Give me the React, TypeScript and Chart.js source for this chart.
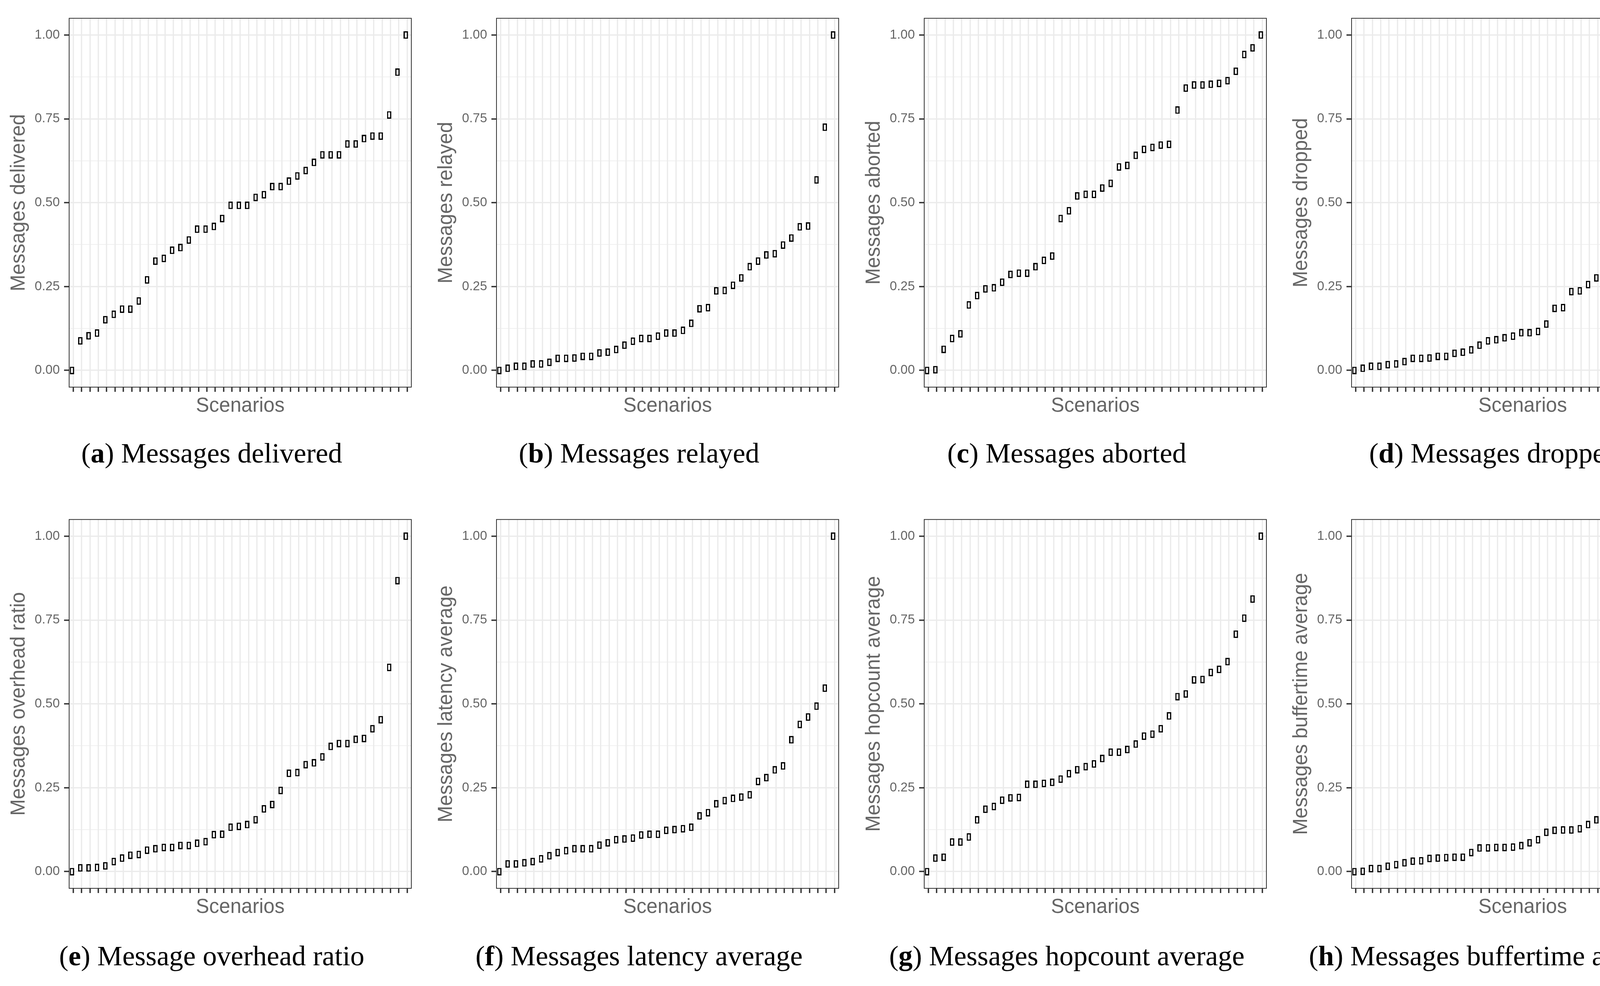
import React, { useEffect, useRef } from 'react';
import { Chart, registerables } from 'chart.js';

Chart.register(...registerables);

const SCENARIOS = ['1','2','3','4','5','6','7','8','9','10','11','12','13','14','15','16','17','18','19','20','21','22','23','24','25','26','27','28','29','30','31','32','33','34','35','36','37','38','39','40','41'];
const Y_TICK_LABELS = ['0.00', '0.25', '0.50', '0.75', '1.00'];

const DELIVERED = [0.000, 0.088, 0.103, 0.111, 0.151, 0.167, 0.183, 0.183, 0.207, 0.270, 0.326, 0.334, 0.358, 0.366, 0.389, 0.421, 0.421, 0.429, 0.453, 0.492, 0.492, 0.492, 0.516, 0.524, 0.548, 0.548, 0.564, 0.580, 0.596, 0.620, 0.643, 0.643, 0.643, 0.675, 0.675, 0.691, 0.699, 0.699, 0.762, 0.889, 1.000];
const RELAYED = [0.000, 0.006, 0.012, 0.012, 0.019, 0.019, 0.024, 0.036, 0.036, 0.037, 0.042, 0.042, 0.052, 0.054, 0.062, 0.075, 0.087, 0.095, 0.095, 0.102, 0.111, 0.111, 0.119, 0.140, 0.184, 0.187, 0.237, 0.238, 0.254, 0.276, 0.309, 0.326, 0.344, 0.348, 0.374, 0.395, 0.428, 0.430, 0.568, 0.725, 1.000];
const ABORTED = [0.000, 0.002, 0.063, 0.095, 0.109, 0.195, 0.223, 0.243, 0.246, 0.263, 0.286, 0.290, 0.290, 0.309, 0.328, 0.341, 0.453, 0.476, 0.520, 0.525, 0.525, 0.544, 0.558, 0.607, 0.611, 0.641, 0.659, 0.665, 0.672, 0.674, 0.776, 0.842, 0.851, 0.851, 0.853, 0.856, 0.864, 0.892, 0.942, 0.962, 1.000];
const DROPPED = [0.000, 0.006, 0.012, 0.012, 0.017, 0.019, 0.026, 0.036, 0.036, 0.037, 0.042, 0.042, 0.051, 0.054, 0.061, 0.075, 0.088, 0.091, 0.097, 0.102, 0.112, 0.112, 0.116, 0.138, 0.185, 0.187, 0.235, 0.237, 0.256, 0.276, 0.309, 0.326, 0.342, 0.347, 0.372, 0.396, 0.427, 0.430, 0.568, 0.725, 1.000];
const OVERHEAD = [0.000, 0.011, 0.011, 0.012, 0.017, 0.030, 0.040, 0.049, 0.051, 0.064, 0.068, 0.072, 0.072, 0.078, 0.078, 0.084, 0.089, 0.110, 0.111, 0.132, 0.135, 0.140, 0.155, 0.187, 0.200, 0.242, 0.293, 0.295, 0.319, 0.324, 0.342, 0.373, 0.382, 0.382, 0.394, 0.397, 0.426, 0.453, 0.609, 0.868, 1.000];
const LATENCY = [0.000, 0.023, 0.023, 0.026, 0.030, 0.038, 0.047, 0.057, 0.062, 0.068, 0.068, 0.068, 0.079, 0.086, 0.095, 0.097, 0.100, 0.109, 0.111, 0.111, 0.123, 0.125, 0.128, 0.132, 0.166, 0.176, 0.202, 0.212, 0.218, 0.222, 0.229, 0.269, 0.280, 0.303, 0.315, 0.393, 0.439, 0.461, 0.493, 0.547, 1.000];
const HOPCOUNT = [0.000, 0.040, 0.043, 0.088, 0.088, 0.103, 0.154, 0.186, 0.194, 0.213, 0.220, 0.221, 0.260, 0.260, 0.263, 0.266, 0.276, 0.292, 0.304, 0.313, 0.321, 0.337, 0.356, 0.356, 0.364, 0.380, 0.404, 0.410, 0.426, 0.464, 0.522, 0.530, 0.572, 0.573, 0.594, 0.603, 0.626, 0.708, 0.756, 0.813, 1.000];
const BUFFERTIME = [0.000, 0.001, 0.009, 0.009, 0.016, 0.021, 0.026, 0.031, 0.032, 0.039, 0.040, 0.042, 0.043, 0.043, 0.057, 0.070, 0.071, 0.072, 0.072, 0.073, 0.077, 0.086, 0.095, 0.117, 0.123, 0.124, 0.124, 0.128, 0.140, 0.154, 0.159, 0.172, 0.186, 0.192, 0.193, 0.207, 0.247, 0.545, 0.604, 0.691, 1.000];

const Y_TITLES = ['Messages delivered', 'Messages relayed', 'Messages aborted', 'Messages dropped', 'Messages overhead ratio', 'Messages latency average', 'Messages hopcount average', 'Messages buffertime average'];
const CAPTION_LETTERS = ['a', 'b', 'c', 'd', 'e', 'f', 'g', 'h'];
const CAPTION_TEXTS = ['Messages delivered', 'Messages relayed', 'Messages aborted', 'Messages dropped', 'Message overhead ratio', 'Messages latency average', 'Messages hopcount average', 'Messages buffertime average'];
const SERIES = [DELIVERED, RELAYED, ABORTED, DROPPED, OVERHEAD, LATENCY, HOPCOUNT, BUFFERTIME];

// layout (page pixels)
const PLOT_LEFTS = [177, 1271, 2366, 3460];
const PLOT_TOPS = [36, 1319];
const PLOT_W = 876;
const PLOT_H = 955;
const AXIS_W = 177;
const PAD = 20;
const XAXIS_H = 80;
const CAPTION_BASELINES = [1184, 2471];

const SANS = '"Liberation Sans", Arial, Helvetica, sans-serif';
const TEXT_GREY = '#666666';
const GRID = '#EBEBEB';
const DARK = '#333333';

const isMajor = (v: number) => Math.abs(v * 4 - Math.round(v * 4)) < 1e-6;

const framePlugin = {
  id: 'frame',
  afterDatasetsDraw(chart: any) {
    const { ctx, chartArea: a } = chart;
    ctx.save();
    ctx.strokeStyle = DARK;
    ctx.lineWidth = 2;
    ctx.strokeRect(a.left, a.top, a.right - a.left, a.bottom - a.top);
    ctx.restore();
  },
};

function Panel({ idx }: { idx: number }) {
  const ref = useRef<HTMLCanvasElement>(null);
  const col = idx % 4;
  const row = Math.floor(idx / 4);
  const left = PLOT_LEFTS[col] - AXIS_W;
  const top = PLOT_TOPS[row] - PAD;
  const width = AXIS_W + PLOT_W + PAD;
  const height = PAD + PLOT_H + XAXIS_H;

  useEffect(() => {
    const canvas = ref.current!;
    const pt = document.createElement('canvas');
    pt.width = 18;
    pt.height = 19;
    const c = pt.getContext('2d')!;
    c.fillStyle = '#000000';
    c.fillRect(0, 0, 11, 19);
    c.fillStyle = '#ffffff';
    c.fillRect(3, 3, 5, 13);

    const chart = new Chart(canvas, {
      type: 'line',
      data: {
        labels: SCENARIOS,
        datasets: [
          {
            data: SERIES[idx],
            showLine: false,
            pointStyle: pt as any,
            pointRadius: 10,
            borderColor: '#000',
            backgroundColor: '#fff',
          },
        ],
      },
      options: {
        animation: false,
        responsive: false,
        devicePixelRatio: 1,
        events: [],
        layout: { padding: { top: PAD, right: PAD, left: 0, bottom: 0 } },
        plugins: { legend: { display: false }, tooltip: { enabled: false } },
        scales: {
          x: {
            type: 'category',
            offset: true,
            grid: {
              offset: false,
              color: GRID,
              lineWidth: 3.3,
              drawTicks: true,
              tickLength: 12,
              tickColor: DARK,
              tickWidth: 3.5,
            },
            border: { display: false },
            ticks: { display: false, autoSkip: false },
            title: {
              display: true,
              text: 'Scenarios',
              color: TEXT_GREY,
              font: { family: SANS, size: 51 },
              padding: { top: 0, bottom: 0 },
            },
            afterFit: (s: any) => {
              s.height = XAXIS_H;
            },
          } as any,
          y: {
            min: -0.05,
            max: 1.05,
            ticks: {
              stepSize: 0.125,
              includeBounds: false,
              autoSkip: false,
              padding: 11,
              color: TEXT_GREY,
              font: { family: SANS, size: 33 },
              callback: (v: any) => (isMajor(Number(v)) ? Y_TICK_LABELS[Math.round(Number(v) * 4)] : ''),
            },
            grid: {
              color: GRID,
              lineWidth: (ctx: any) => (isMajor(ctx.tick.value) ? 3.3 : 1.6),
              tickLength: 13,
              tickColor: (ctx: any) => (isMajor(ctx.tick.value) ? DARK : 'rgba(0,0,0,0)'),
              tickWidth: 3.5,
            },
            border: { display: false },
            title: {
              display: true,
              text: Y_TITLES[idx],
              color: TEXT_GREY,
              font: { family: SANS, size: 51 },
              padding: { top: 18, bottom: 0 },
            },
            afterFit: (s: any) => {
              s.width = AXIS_W;
            },
          } as any,
        },
      },
      plugins: [framePlugin],
    });
    return () => chart.destroy();
  }, [idx]);

  return (
    <canvas
      ref={ref}
      width={width}
      height={height}
      style={{ position: 'absolute', left, top, width, height }}
    />
  );
}

function Caption({ idx }: { idx: number }) {
  const col = idx % 4;
  const row = Math.floor(idx / 4);
  const center = PLOT_LEFTS[col] + 365;
  const top = CAPTION_BASELINES[row] - 60;
  return (
    <div
      style={{
        position: 'absolute',
        left: center - 540,
        width: 1080,
        top,
        textAlign: 'center',
        fontFamily: '"Liberation Serif", "Times New Roman", serif',
        fontSize: 72,
        lineHeight: '72px',
        color: '#000',
        whiteSpace: 'nowrap',
      }}
    >
      (<b>{CAPTION_LETTERS[idx]}</b>) {CAPTION_TEXTS[idx]}
    </div>
  );
}

export default function App() {
  const ids = [0, 1, 2, 3, 4, 5, 6, 7];
  return (
    <div style={{ position: 'absolute', left: 0, top: 0, width: 4378, height: 2524, background: '#fff', overflow: 'hidden' }}>
      {ids.map((i) => (
        <Panel key={'p' + i} idx={i} />
      ))}
      {ids.map((i) => (
        <Caption key={'c' + i} idx={i} />
      ))}
    </div>
  );
}
